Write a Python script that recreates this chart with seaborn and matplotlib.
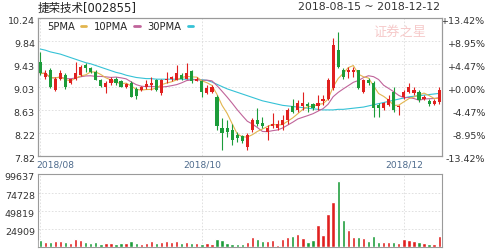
import numpy as np
import pandas as pd
import matplotlib
matplotlib.use("Agg")
import matplotlib.pyplot as plt
import matplotlib.transforms as mtransforms
from matplotlib.lines import Line2D
import seaborn as sns

TITLE = "捷荣技术[002855]"
DATE_RANGE = "2018-08-15 ~ 2018-12-12"

# daily OHLC, 80 trading days
opens = [9.48, 9.21, 9.33, 8.98, 9.18, 9.24, 9.10, 9.17, 9.24, 9.42,
         9.36, 9.30, 9.16, 9.04, 9.10, 9.17, 9.13, 9.04, 9.10, 8.99,
         8.98, 9.03, 9.07, 9.16, 8.92, 9.16, 9.17, 9.16, 9.25, 9.18,
         9.32, 9.14, 9.13, 8.92, 8.95, 8.86, 8.31, 8.31, 8.28, 8.19,
         8.17, 7.98, 8.28, 8.45, 8.40, 8.25, 8.34, 8.31, 8.36, 8.45,
         8.69, 8.63, 8.69, 8.74, 8.73, 8.69, 8.78, 8.83, 9.01, 9.68,
         9.33, 9.30, 9.30, 9.33, 8.95, 9.16, 9.11, 8.72, 8.66, 8.72,
         8.95, 8.68, 8.86, 8.95, 8.92, 8.95, 8.83, 8.79, 8.73, 8.77]
closes = [9.27, 9.28, 9.04, 9.18, 9.27, 9.04, 9.17, 9.27, 9.39, 9.36,
          9.30, 9.16, 9.05, 9.10, 9.17, 9.10, 9.04, 9.09, 8.86, 8.87,
          9.03, 9.09, 9.10, 8.98, 9.16, 9.18, 9.20, 9.27, 9.18, 9.27,
          9.13, 9.18, 8.95, 9.01, 9.03, 8.34, 8.22, 8.25, 8.10, 8.13,
          8.09, 8.19, 8.46, 8.39, 8.34, 8.31, 8.39, 8.38, 8.45, 8.63,
          8.60, 8.76, 8.76, 8.69, 8.66, 8.76, 8.83, 9.16, 9.77, 9.39,
          9.21, 9.34, 9.34, 9.01, 9.16, 9.10, 8.66, 8.66, 8.76, 8.83,
          8.63, 8.69, 8.95, 9.04, 8.98, 8.80, 8.86, 8.73, 8.79, 8.98]
highs = [9.65, 9.33, 9.36, 9.21, 9.34, 9.27, 9.18, 9.48, 9.42, 9.46,
         9.38, 9.33, 9.18, 9.13, 9.20, 9.20, 9.16, 9.11, 9.13, 9.04,
         9.05, 9.16, 9.21, 9.18, 9.18, 9.30, 9.23, 9.42, 9.28, 9.45,
         9.34, 9.21, 9.16, 9.07, 9.07, 8.89, 8.48, 8.45, 8.38, 8.25,
         8.19, 8.22, 8.48, 8.67, 8.51, 8.36, 8.57, 8.45, 8.54, 8.66,
         8.83, 8.80, 8.95, 8.77, 8.76, 8.89, 8.89, 9.19, 9.89, 10.00,
         9.36, 9.39, 9.38, 9.34, 9.17, 9.19, 9.13, 8.76, 8.77, 8.89,
         9.03, 8.72, 8.98, 9.10, 9.03, 8.98, 8.89, 8.82, 8.83, 9.04]
lows = [9.24, 9.18, 9.01, 8.97, 9.16, 9.00, 9.09, 9.16, 9.23, 9.30,
        9.28, 9.15, 9.04, 8.92, 9.07, 9.07, 9.03, 9.02, 8.85, 8.83,
        8.96, 9.00, 8.98, 8.96, 8.90, 9.10, 9.14, 9.15, 9.16, 9.17,
        9.11, 9.13, 8.86, 8.91, 8.93, 8.28, 7.93, 8.16, 8.01, 8.06,
        8.04, 7.93, 8.25, 8.34, 8.31, 8.10, 8.31, 8.28, 8.28, 8.39,
        8.57, 8.60, 8.63, 8.60, 8.63, 8.63, 8.72, 8.80, 8.98, 9.36,
        9.17, 9.19, 9.21, 8.99, 8.93, 9.07, 8.51, 8.51, 8.63, 8.69,
        8.60, 8.54, 8.83, 8.92, 8.89, 8.77, 8.80, 8.69, 8.71, 8.74]
volumes = [9960, 7230, 7230, 8190, 8600, 7230, 6420, 11330, 9960, 6830,
           6420, 6830, 5050, 6420, 5870, 5050, 5460, 6420, 8190, 5460,
           5050, 5460, 8190, 6420, 6830, 8190, 7230, 8190, 5870, 7230,
           5870, 5870, 5050, 6420, 5050, 10920, 10510, 5460, 5050, 5050,
           4500, 7780, 14610, 11330, 9150, 9150, 9960, 3690, 11330, 14060,
           15420, 18700, 12690, 7230, 9960, 30990, 16790, 46000, 61830, 90500,
           37260, 23610, 13650, 13650, 12290, 8600, 15420, 7230, 7230, 7230,
           7230, 5870, 10920, 9960, 8190, 7780, 5870, 4500, 5050, 15420]
ma30 = [9.70, 9.68, 9.65, 9.63, 9.61, 9.58, 9.55, 9.52, 9.49, 9.46,
        9.44, 9.41, 9.38, 9.35, 9.32, 9.29, 9.27, 9.24, 9.22, 9.20,
        9.19, 9.18, 9.18, 9.17, 9.17, 9.17, 9.17, 9.17, 9.17, 9.17,
        9.17, 9.16, 9.16, 9.15, 9.12, 9.08, 9.04, 9.00, 8.97, 8.94,
        8.91, 8.88, 8.85, 8.82, 8.79, 8.77, 8.75, 8.73, 8.71, 8.70,
        8.69, 8.68, 8.67, 8.66, 8.65, 8.64, 8.63, 8.63, 8.63, 8.64,
        8.64, 8.65, 8.66, 8.67, 8.68, 8.70, 8.72, 8.74, 8.76, 8.78,
        8.80, 8.82, 8.84, 8.86, 8.87, 8.88, 8.89, 8.90, 8.91, 8.92]

price_ticks = [7.82, 8.22, 8.63, 9.03, 9.43, 9.84, 10.24]
pct_labels = ["-13.42%", "-8.95%", "-4.47%", "+0.00%", "+4.47%", "+8.95%", "+13.42%"]
vol_ticks = [24909, 49819, 74728, 99637]
month_pos = [0, 32, 72]
month_labels = ["2018/08", "2018/10", "2018/12"]

RED = "#e0201f"
GREEN = "#1c9c3a"
MA_COLORS = {"5PMA": "#e2b54e", "10PMA": "#c0649a", "30PMA": "#35c2d6"}
GRID = "#dcdcdc"
FRAME = "#9a9a9a"
TXT = "#333333"

sns.set_theme(style="white")
plt.rcParams["font.family"] = ["DejaVu Sans", "Noto Sans CJK SC"]

df = pd.DataFrame({"day": np.arange(len(closes)), "open": opens, "close": closes,
                   "high": highs, "low": lows, "volume": volumes, "ma30": ma30})
df["ma5"] = df["close"].rolling(5, min_periods=1).mean()
df["ma10"] = df["close"].rolling(10, min_periods=1).mean()
df["dir"] = np.where(df["close"] >= df["open"], "up", "down")
colors = df["dir"].map({"up": RED, "down": GREEN}).tolist()

fig = plt.figure(figsize=(4.88, 2.49), dpi=100)
ax = fig.add_axes([0.0773, 0.3735, 0.8279, 0.5530])
axv = fig.add_axes([0.0773, 0.0068, 0.8279, 0.2932])

# moving averages
for col, name in [("ma30", "30PMA"), ("ma10", "10PMA"), ("ma5", "5PMA")]:
    sns.lineplot(data=df, x="day", y=col, color=MA_COLORS[name], linewidth=0.8, ax=ax, zorder=2)

# candles
ax.vlines(df["day"], df["low"], df["high"], colors=colors, linewidth=0.8, zorder=3)
body_low = df[["open", "close"]].min(axis=1)
body_h = (df["close"] - df["open"]).abs().clip(lower=0.012)
ax.bar(df["day"], body_h, bottom=body_low, width=0.62, color=colors, linewidth=0, zorder=4)

ax.set_xlim(-0.5, len(closes) - 0.5)
ax.set_ylim(price_ticks[0], price_ticks[-1])
ax.set_yticks(price_ticks)
ax.set_yticklabels([f"{t:.2f}" for t in price_ticks])
ax.set_xticks(month_pos)
ax.set_xticklabels(month_labels)
ax.set_xlabel("")
ax.set_ylabel("")
ax.tick_params(axis="y", length=0, pad=2, labelsize=6.8, labelcolor=TXT)
ax.tick_params(axis="x", length=0, pad=3.5, labelsize=6.6, labelcolor="#4d6a8c")
ax.grid(True, linestyle=(0, (2, 2)), color=GRID, linewidth=0.6)

# right hand percentage axis
axr = ax.twinx()
axr.set_ylim(ax.get_ylim())
axr.set_yticks(price_ticks)
axr.set_yticklabels(pct_labels, ha="right")
axr.tick_params(axis="y", length=0, pad=31.5, labelsize=6.8, labelcolor=TXT)
axr.grid(False)

# volume
sns.barplot(data=df, x="day", y="volume", hue="dir", palette={"up": RED, "down": GREEN},
            dodge=False, width=0.66, saturation=1, legend=False, ax=axv, zorder=3)
axv.set_xlim(-0.5, len(closes) - 0.5)
axv.set_ylim(0, vol_ticks[-1])
axv.set_yticks(vol_ticks)
axv.set_yticklabels([str(v) for v in vol_ticks])
axv.set_xticks(month_pos)
axv.set_xticklabels([])
axv.set_xlabel("")
axv.set_ylabel("")
axv.tick_params(axis="y", length=0, pad=2, labelsize=6.8, labelcolor=TXT)
axv.tick_params(axis="x", length=0)
axv.grid(True, linestyle=(0, (2, 2)), color=GRID, linewidth=0.6)

for a in (ax, axr, axv):
    for s in a.spines.values():
        s.set_color(FRAME)
        s.set_linewidth(0.8)

# push y labels a little below their grid lines, as in the original
down = mtransforms.ScaledTranslation(0, -0.025, fig.dpi_scale_trans)
for lab in ax.get_yticklabels() + axr.get_yticklabels() + axv.get_yticklabels():
    lab.set_transform(lab.get_transform() + down)
first = ax.get_xticklabels()[0]
first.set_ha("left")
first.set_transform(first.get_transform() + mtransforms.ScaledTranslation(-0.04, 0, fig.dpi_scale_trans))

handles = [Line2D([], [], color=MA_COLORS[k], linewidth=2) for k in MA_COLORS]
ax.legend(handles, list(MA_COLORS), loc="upper left", bbox_to_anchor=(0.0957, 0.912),
          bbox_transform=fig.transFigure, ncol=3, frameon=False, fontsize=7.2,
          markerfirst=False, handlelength=0.55, handletextpad=0.6, columnspacing=0.8,
          borderpad=0, borderaxespad=0)

fig.text(38 / 488, 1 - 8 / 249, TITLE, ha="left", va="center", fontsize=8.3, color="#222222")
fig.text(440 / 488, 1 - 7 / 249, DATE_RANGE, ha="right", va="center", fontsize=7.8, color=TXT)
fig.text(400 / 488, 1 - 32 / 249, "证券之星", ha="center", va="center", fontsize=9.5,
         color="#f6caca", family=["Noto Sans CJK SC"])

fig.savefig("out.png", dpi=100)
